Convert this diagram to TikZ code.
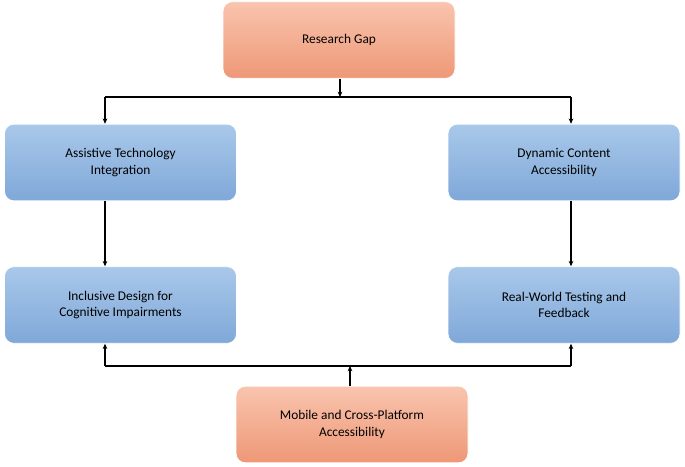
\documentclass[tikz,border=0pt]{standalone}
\usepackage{fontspec}
\setmainfont{Carlito}
\usetikzlibrary{arrows.meta}
\definecolor{orT}{HTML}{F9C4AE}
\definecolor{orB}{HTML}{EE9877}
\definecolor{blT}{HTML}{A9C8EA}
\definecolor{blB}{HTML}{7FA8D8}
\begin{document}
\begin{tikzpicture}[x=0.75pt,y=-0.75pt,
  box/.style={draw=white,line width=0.6pt,rounded corners=7pt,minimum width=174pt,minimum height=57.5pt,align=center,font=\fontsize{10pt}{12.5pt}\selectfont,text=black},
  orbox/.style={box,top color=orT,bottom color=orB},
  blbox/.style={box,top color=blT,bottom color=blB},
  conn/.style={line width=0.8pt,-{Stealth[length=4pt,width=3.5pt]}},
  ln/.style={line width=0.8pt}]
\useasboundingbox (0,0) rectangle (685,467);
\node[orbox] (gap) at (339,40) {Research Gap};
\node[blbox] (at) at (120.5,162.5) {Assistive Technology\\Integration};
\node[blbox] (dc) at (564,162.5) {Dynamic Content\\Accessibility};
\node[blbox] (id) at (120.5,305) {Inclusive Design for\\Cognitive Impairments};
\node[blbox] (rw) at (564,305) {Real-World Testing and\\Feedback};
\node[orbox] (mc) at (352,424.5) {Mobile and Cross-Platform\\Accessibility};
\coordinate (t1) at (340,97);
\coordinate (tl) at (105,97);
\coordinate (tr) at (571,97);
\coordinate (b1) at (350,366);
\coordinate (bl) at (105,366);
\coordinate (br) at (571,366);
\draw[conn] (gap.south -| t1) -- (t1);
\draw[ln] (tl) -- (tr);
\draw[conn] (tl) -- (tl |- at.north);
\draw[conn] (tr) -- (tr |- dc.north);
\draw[conn] (tl |- at.south) -- (tl |- id.north);
\draw[conn] (tr |- dc.south) -- (tr |- rw.north);
\draw[conn] (b1 |- mc.north) -- (b1);
\draw[ln] (bl) -- (br);
\draw[conn] (bl) -- (bl |- id.south);
\draw[conn] (br) -- (br |- rw.south);
\end{tikzpicture}
\end{document}
